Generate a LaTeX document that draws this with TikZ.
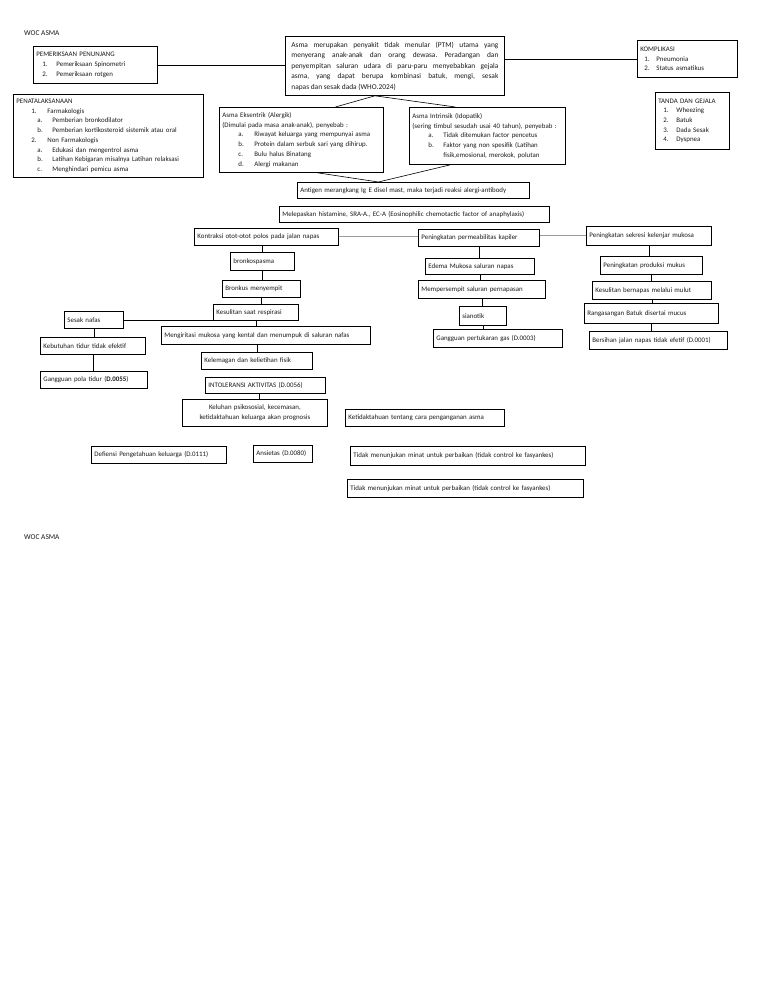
\documentclass[tikz,border=0pt]{standalone}
\usepackage{fontspec}
\setmainfont{Carlito}
\usepackage{xcolor}
\usepackage{tikz}
\usetikzlibrary{calc}
\definecolor{inkK}{HTML}{1A1A1A}
\definecolor{lineG}{HTML}{9C9C9C}
% indented list label: indent, label width, label
\newcommand{\wocitem}[3]{\hspace*{#1}\makebox[#2][l]{#3}}
\frenchspacing

\begin{document}
\begin{tikzpicture}[x=1pt, y=-1pt,
    box/.style={draw=black, line width=0.8pt, anchor=north west,
      inner xsep=3pt, inner ysep=1.5pt, align=left, text=inkK,
      font=\fontsize{6.9}{9.7}\selectfont},
    link/.style={draw=black, line width=0.6pt},
    hlink/.style={draw=lineG, line width=0.9pt},
    title/.style={anchor=west, inner sep=0pt, text=inkK,
      font=\fontsize{7.4}{9}\selectfont}]
  \fill[white] (0,0) rectangle (768,1006);
  \useasboundingbox (0,0) rectangle (768,1006);

  \node[title] (woc1) at (24,33) {WOC ASMA};
  \node[title] (woc2) at (24,537) {WOC ASMA};

  % top row
  \node[box, text width=118pt, minimum height=37pt] (pemeriksaan) at (33,46) {
    PEMERIKSAAN PENUNJANG\\
    \wocitem{6pt}{14pt}{1.}Pemeriksaan Spinometri\\
    \wocitem{6pt}{14pt}{2.}Pemeriksaan rotgen};
  \node[box, text width=207pt, minimum height=59pt, inner xsep=6pt,
        align=justify, font=\fontsize{7.4}{10.5}\selectfont] (main) at (285,36) {
    Asma merupakan penyakit tidak menular (PTM) utama yang\linebreak
    menyerang anak-anak dan orang dewasa. Peradangan dan\linebreak
    penyempitan saluran udara di paru-paru menyebabkan gejala\linebreak
    asma, yang dapat berupa kombinasi batuk, mengi, sesak\linebreak
    napas dan sesak dada (WHO.2024)};
  \node[box, text width=94pt, minimum height=37pt] (komplikasi) at (637,40) {
    KOMPLIKASI\\
    \wocitem{4pt}{12pt}{1.}Pneumonia\\
    \wocitem{4pt}{12pt}{2.}Status asmatikus};
  \node[box, text width=68pt, minimum height=57pt] (tanda) at (655,92) {
    TANDA DAN GEJALA\\
    \wocitem{5pt}{13pt}{1.}Wheezing\\
    \wocitem{5pt}{13pt}{2.}Batuk\\
    \wocitem{5pt}{13pt}{3.}Dada Sesak\\
    \wocitem{5pt}{13pt}{4.}Dyspnea};
  \node[box, text width=184pt, minimum height=83pt] (penatalaksanaan) at (13,94) {
    PENATALAKSANAAN\\
    \wocitem{15pt}{16pt}{1.}Farmakologis\\
    \wocitem{21pt}{15pt}{a.}Pemberian bronkodilator\\
    \wocitem{21pt}{15pt}{b.}Pemberian kortikosteroid sistemik atau oral\\
    \wocitem{15pt}{16pt}{2.}Non Farmakologis\\
    \wocitem{21pt}{15pt}{a.}Edukasi dan mengentrol asma\\
    \wocitem{21pt}{15pt}{b.}Latihan Kebigaran misalnya Latihan relaksasi\\
    \wocitem{21pt}{15pt}{c.}Menghindari pemicu asma};

  % asma types
  \node[box, text width=158pt, minimum height=65pt] (eksentrik) at (219,107) {
    Asma Eksentrik (Alergik)\\
    (Dimulai pada masa anak-anak), penyebab :\\
    \wocitem{16pt}{16pt}{a.}Riwayat keluarga yang mempunyai asma\\
    \wocitem{16pt}{16pt}{b.}Protein dalam serbuk sari yang dihirup.\\
    \wocitem{16pt}{16pt}{c.}Bulu halus Binatang\\
    \wocitem{16pt}{16pt}{d.}Alergi makanan};
  \node[box, text width=150pt, minimum height=57pt] (intrinsik) at (409,107) {
    Asma Intrinsik (Idopatik)\\
    (sering timbul sesudah usai 40 tahun), penyebab :\\
    \wocitem{16pt}{15pt}{a.}Tidak ditemukan factor pencetus\\
    \wocitem{16pt}{15pt}{b.}Faktor yang non spesifik (Latihan\\
    \hspace*{31pt}fisik,emosional, merokok, polutan};

  \node[box, text width=226pt, minimum height=16pt] (antigen) at (297,182) {Antigen merangkang Ig E disel mast, maka terjadi reaksi alergi-antibody};
  \node[box, text width=264pt, minimum height=16pt] (melepaskan) at (279,206) {Melepaskan histamine, SRA-A., EC-A (Eosinophilic chemotactic factor of anaphylaxis)};

  % left chain
  \node[box, text width=138pt, minimum height=17pt] (kontraksi) at (194,228) {Kontraksi otot-otot polos pada jalan napas};
  \node[box, text width=58pt, minimum height=18pt] (bronkospasma) at (230,252) {bronkospasma};
  \node[box, text width=72pt, minimum height=17pt] (bronkus) at (222,280) {Bronkus menyempit};
  \node[box, text width=79pt, minimum height=16pt] (kesulitan) at (213,304) {Kesulitan saat respirasi};
  \node[box, text width=53pt, minimum height=17pt] (sesak) at (64,311) {Sesak nafas};
  \node[box, text width=203pt, minimum height=18pt] (iritasi) at (161,326) {Mengiritasi mukosa yang kental dan menumpuk di saluran nafas};
  \node[box, text width=99pt, minimum height=17pt] (kebutuhan) at (40,337) {Kebutuhan tidur tidak efektif};
  \node[box, text width=101pt, minimum height=17pt] (polatidur) at (40,371) {Gangguan pola tidur (\textbf{D.0055})};
  \node[box, text width=105pt, minimum height=17pt] (lemah) at (201,352) {Kelemagan dan kelietihan fisik};
  \node[box, text width=114pt, minimum height=16pt] (intoleransi) at (205,377) {INTOLERANSI AKTIVITAS (D.0056)};
  \node[box, text width=139pt, minimum height=27pt, align=center] (keluhan) at (182,399) {Keluhan psikososial, kecemasan,\\ ketidaktahuan keluarga akan prognosis};
  \node[box, text width=153pt, minimum height=17pt] (ketidaktahuan) at (345,409) {Ketidaktahuan tentang cara penganganan asma};
  \node[box, text width=129pt, minimum height=17pt] (defisiensi) at (91,446) {Defiensi Pengetahuan keluarga (D.0111)};
  \node[box, text width=53pt, minimum height=17pt] (ansietas) at (253,445) {Ansietas (D.0080)};
  \node[box, text width=229pt, minimum height=19pt] (minatA) at (350,446) {Tidak menunjukan minat untuk perbaikan (tidak control ke fasyankes)};
  \node[box, text width=230pt, minimum height=18pt] (minatB) at (347,479) {Tidak menunjukan minat untuk perbaikan (tidak control ke fasyankes)};

  % middle chain
  \node[box, text width=115pt, minimum height=17pt] (permeabilitas) at (418,229) {Peningkatan permeabilitas kapiler};
  \node[box, text width=103pt, minimum height=16pt] (edema) at (425,258) {Edema Mukosa saluran napas};
  \node[box, text width=121pt, minimum height=18pt] (sempit) at (418,280) {Mempersempit saluran pernapasan};
  \node[box, text width=41pt, minimum height=19pt] (sianotik) at (459,306) {sianotik};
  \node[box, text width=123pt, minimum height=18pt] (gasexch) at (433,329) {Gangguan pertukaran gas (D.0003)};

  % right chain
  \node[box, text width=119pt, minimum height=19pt] (sekresi) at (586,226) {Peningkatan sekresi kelenjar mukosa};
  \node[box, text width=96pt, minimum height=18pt] (mukus) at (600,256) {Peningkatan produksi mukus};
  \node[box, text width=113pt, minimum height=18pt] (mulut) at (592,281) {Kesulitan bernapas melalui mulut};
  \node[box, text width=128pt, minimum height=20pt] (batuk) at (584,303) {Rangasangan Batuk disertai mucus};
  \node[box, text width=132pt, minimum height=18pt] (bersihan) at (589,331) {Bersihan jalan napas tidak efetif (D.0001)};

  % connectors, top
  \draw[link] (pemeriksaan.east) -- (pemeriksaan.east -| main.west);
  \draw[link] (main.east |- komplikasi.west) -- (komplikasi.west);
  \coordinate (apexT) at ($(main.south)+(-20,0)$);
  \draw[link] ($(eksentrik.north)+(34,0)$) -- (apexT) -- ($(intrinsik.north)+(-32,0)$);
  \coordinate (apexB) at ($(antigen.north)+(-35,0)$);
  \draw[link] ($(eksentrik.south)+(16,0)$) -- (apexB) -- ($(intrinsik.south)+(-37,0)$);

  % row links
  \draw[hlink] (kontraksi.east) -- (kontraksi.east -| permeabilitas.west);
  \draw[hlink] (permeabilitas.east |- sekresi.west) -- (sekresi.west);

  % left chain links
  \draw[link] (kontraksi.south -| bronkospasma.north) -- (bronkospasma.north);
  \draw[link] (bronkospasma.south) -- (bronkospasma.south |- bronkus.north);
  \draw[link] (bronkus.south) -- (bronkus.south |- kesulitan.north);
  \draw[link] (kesulitan.south) -- (kesulitan.south |- iritasi.north);
  \draw[link] (iritasi.south -| lemah.north) -- (lemah.north);
  \draw[link] ($(intoleransi.south)+(-6,0)$) -- ($(intoleransi.south |- keluhan.north)+(-6,0)$);
  \draw[link] (sesak.east) -- (sesak.east -| kesulitan.west);
  \draw[link] (sesak.south) -- (sesak.south |- kebutuhan.north);
  \draw[link] (kebutuhan.south) -- (kebutuhan.south |- polatidur.north);

  % middle chain links
  \draw[link] (permeabilitas.south) -- (permeabilitas.south |- edema.north);
  \draw[link] (edema.south) -- (edema.south |- sempit.north);
  \draw[link] (sempit.south) -- (sempit.south |- sianotik.north);
  \draw[link] (sianotik.south) -- (sianotik.south |- gasexch.north);

  % right chain links
  \draw[link] (sekresi.south) -- (sekresi.south |- mukus.north);
  \draw[link] (mukus.south) -- (mukus.south |- mulut.north);
  \draw[link] (mulut.south) -- (mulut.south |- batuk.north);
  \draw[link] (batuk.south) -- (batuk.south |- bersihan.north);
\end{tikzpicture}
\end{document}
